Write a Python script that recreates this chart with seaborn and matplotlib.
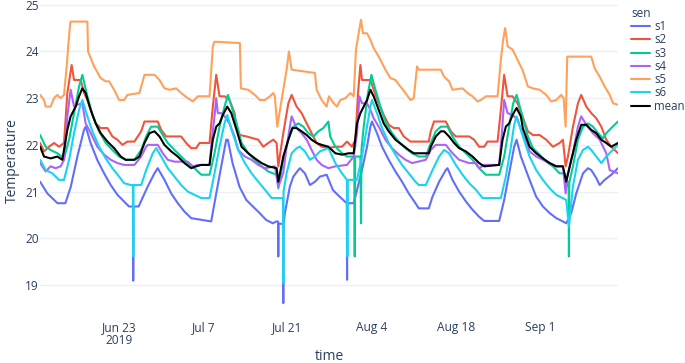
import pandas as pd
import matplotlib
matplotlib.use("Agg")
import matplotlib.pyplot as plt
from matplotlib.lines import Line2D
import seaborn as sns

# (days after 2019-06-23, temperature)
s1 = [(-13.2, 21.21), (-12.0, 20.96), (-10.3, 20.75), (-9.0, 20.75), (-8.1, 21.1), (-7.0, 21.75), (-5.9, 22.32),
      (-5.6, 22.39), (-4.8, 22.04), (-3.7, 21.68), (-2.55, 21.39), (-1.45, 21.14), (-0.33, 20.93), (1.05, 20.75),
      (1.6, 20.68), (2.25, 20.68), (2.3, 19.09), (2.35, 20.68), (3.2, 20.68), (4.72, 21.11), (5.83, 21.39),
      (6.38, 21.5), (7.5, 21.25), (8.62, 20.96), (9.72, 20.75), (10.83, 20.57), (11.95, 20.43), (15.28, 20.36),
      (16.12, 20.96), (16.95, 21.54), (17.78, 22.11), (18.05, 22.11), (18.83, 21.61), (20.0, 21.1), (21.12, 20.82),
      (22.22, 20.68), (23.33, 20.54), (24.45, 20.39), (25.55, 20.32), (26.12, 20.36), (26.4, 20.36), (26.45, 19.61),
      (26.5, 20.32), (27.23, 20.3), (27.28, 18.61), (27.33, 20.3), (27.55, 20.54), (28.38, 21.11), (28.95, 21.32),
      (29.78, 21.46), (30.05, 21.5), (30.88, 21.39), (31.72, 21.14), (32.55, 21.21), (33.38, 21.32), (34.5, 21.36),
      (35.55, 21.03), (36.67, 20.89), (37.5, 20.79), (37.85, 20.75), (37.9, 19.11), (37.95, 20.75), (38.33, 20.75),
      (39.0, 20.75), (39.55, 21.03), (40.38, 21.46), (41.22, 21.96), (41.78, 22.39), (42.05, 22.5), (42.88, 22.25),
      (43.72, 21.96), (44.83, 21.68), (45.95, 21.43), (47.05, 21.21), (48.17, 20.96), (49.28, 20.75), (49.83, 20.64),
      (51.5, 20.64), (52.12, 20.89), (53.22, 21.21), (54.33, 21.46), (54.62, 21.5), (55.45, 21.25), (56.55, 21.0),
      (57.67, 20.79), (58.78, 20.61), (59.88, 20.46), (60.72, 20.37), (63.22, 20.37), (64.05, 20.82), (64.88, 21.39),
      (65.72, 21.96), (66.12, 22.11), (66.83, 21.75), (67.67, 21.46), (68.28, 21.25), (69.38, 20.89), (70.5, 20.68),
      (71.62, 20.54), (72.72, 20.43), (73.83, 20.36), (74.38, 20.32), (75.22, 20.54), (76.05, 20.96), (77.17, 21.39),
      (78.0, 21.5), (78.55, 21.46), (79.38, 21.29), (79.95, 21.14), (80.78, 21.25), (81.88, 21.36), (83.0, 21.5)]

s2 = [(-13.2, 22.04), (-12.55, 21.86), (-11.72, 21.96), (-10.88, 22.04), (-10.05, 21.96), (-9.22, 22.04),
      (-8.67, 23.11), (-7.95, 23.71), (-7.55, 23.39), (-6.45, 23.39), (-5.88, 23.11), (-5.33, 22.96), (-4.78, 22.75),
      (-3.95, 22.46), (-3.12, 22.36), (-2.0, 22.36), (-1.17, 22.18), (-0.33, 22.11), (0.5, 22.0), (1.33, 22.07),
      (2.5, 22.07), (3.62, 22.29), (4.17, 22.5), (6.38, 22.5), (6.95, 22.32), (7.78, 22.18), (10.28, 22.18),
      (11.12, 22.04), (11.95, 21.93), (12.78, 21.93), (13.33, 22.04), (15.0, 22.04), (15.55, 22.82), (16.12, 23.5),
      (16.67, 23.04), (17.5, 23.04), (18.33, 22.96), (19.17, 22.68), (19.5, 22.39), (20.05, 22.21), (21.17, 22.18),
      (22.28, 22.14), (23.12, 22.11), (23.95, 21.96), (24.78, 22.04), (25.62, 22.11), (26.17, 22.04), (26.45, 21.54),
      (27.28, 22.25), (28.12, 22.89), (28.67, 23.07), (29.5, 22.82), (30.33, 22.68), (31.17, 22.46), (32.0, 22.25),
      (32.83, 22.04), (33.67, 21.96), (34.78, 21.93), (35.95, 21.96), (37.05, 21.96), (37.88, 22.07), (38.72, 21.96),
      (39.28, 22.11), (39.72, 23.11), (40.12, 23.71), (40.38, 23.39), (41.78, 23.39), (42.33, 23.18), (43.17, 22.89),
      (44.0, 22.64), (44.83, 22.43), (45.67, 22.36), (46.5, 22.36), (47.33, 22.18), (48.45, 22.07), (51.5, 22.07),
      (51.83, 22.29), (52.38, 22.5), (54.33, 22.5), (55.17, 22.29), (56.0, 22.18), (58.22, 22.18), (59.05, 22.11),
      (59.88, 21.96), (60.72, 21.96), (61.28, 22.07), (62.95, 22.07), (63.5, 22.75), (64.05, 23.5), (64.62, 23.04),
      (65.45, 23.04), (66.28, 22.89), (67.12, 22.6), (68.0, 22.29), (68.83, 22.21), (69.95, 22.21), (71.05, 22.11),
      (72.17, 21.96), (73.28, 22.04), (73.83, 22.11), (74.28, 21.54), (74.67, 21.75), (75.5, 22.39), (76.33, 22.89),
      (76.88, 23.07), (77.72, 22.82), (78.55, 22.68), (79.38, 22.57), (80.22, 22.39), (81.05, 22.11), (81.88, 21.96),
      (83.0, 21.82)]

s3 = [(-13.2, 22.21), (-12.28, 21.96), (-11.45, 21.89), (-10.33, 21.82), (-9.22, 21.71), (-8.38, 22.11),
      (-7.55, 22.68), (-6.72, 23.25), (-6.17, 23.5), (-5.33, 23.04), (-4.5, 22.64), (-3.38, 22.29), (-2.28, 22.04),
      (-1.17, 21.89), (-0.05, 21.75), (1.05, 21.68), (2.5, 21.68), (3.62, 21.89), (4.45, 22.18), (5.28, 22.39),
      (6.38, 22.39), (7.22, 22.21), (8.05, 22.04), (9.17, 21.89), (10.28, 21.75), (11.38, 21.61), (12.5, 21.5),
      (13.62, 21.36), (15.0, 21.36), (15.83, 21.82), (16.67, 22.39), (17.5, 22.82), (18.05, 23.07), (18.67, 22.82),
      (19.5, 22.46), (20.33, 22.04), (21.45, 21.82), (22.55, 21.68), (23.67, 21.54), (24.78, 21.43), (26.17, 21.36),
      (26.45, 21.07), (27.28, 21.68), (28.12, 22.11), (28.95, 22.39), (29.78, 22.46), (30.62, 22.39), (31.45, 22.25),
      (32.28, 22.18), (33.12, 22.29), (33.95, 22.36), (34.78, 22.5), (35.08, 22.18), (35.95, 21.96), (37.05, 21.82),
      (37.88, 21.75), (39.1, 21.75), (39.17, 19.61), (39.24, 21.75), (40.12, 21.75), (40.22, 20.32), (40.3, 21.9),
      (40.67, 22.39), (41.38, 23.11), (41.95, 23.5), (42.62, 23.18), (43.45, 22.82), (44.28, 22.5), (45.38, 22.25),
      (46.5, 22.07), (47.62, 21.93), (48.72, 21.82), (49.83, 21.75), (51.0, 21.75), (51.83, 22.04), (52.67, 22.29),
      (53.5, 22.39), (54.62, 22.39), (55.45, 22.18), (56.55, 21.96), (57.67, 21.82), (58.78, 21.68), (59.88, 21.5),
      (61.0, 21.36), (63.22, 21.36), (64.05, 21.75), (64.88, 22.39), (65.55, 22.89), (66.12, 23.07), (67.12, 22.6),
      (68.0, 22.18), (68.83, 21.93), (69.95, 21.79), (71.05, 21.64), (72.17, 21.54), (73.28, 21.39), (74.12, 21.39),
      (74.38, 21.1), (74.78, 21.2), (74.83, 19.61), (74.9, 21.2), (75.5, 21.54), (76.33, 22.11), (77.17, 22.39),
      (78.0, 22.46), (78.83, 22.39), (79.67, 22.25), (80.5, 22.14), (81.05, 22.25), (81.88, 22.36), (83.0, 22.5)]

s4 = [(-13.2, 21.61), (-12.28, 21.43), (-11.45, 21.54), (-10.62, 21.5), (-9.78, 21.54), (-9.22, 21.68),
      (-8.67, 22.61), (-8.12, 23.18), (-7.55, 22.82), (-7.0, 22.86), (-6.17, 22.89), (-5.62, 22.46), (-4.78, 22.25),
      (-3.67, 21.96), (-2.55, 21.79), (-1.45, 21.68), (-0.33, 21.61), (0.78, 21.57), (2.5, 21.57), (3.62, 21.75),
      (4.45, 21.96), (4.72, 22.0), (6.38, 22.0), (7.22, 21.82), (8.05, 21.68), (9.17, 21.64), (11.38, 21.64),
      (12.22, 21.54), (13.05, 21.57), (15.0, 21.57), (15.38, 22.11), (15.83, 22.61), (16.12, 23.0), (16.38, 22.68),
      (16.95, 22.68), (17.5, 22.61), (18.33, 22.46), (19.17, 22.18), (19.78, 21.89), (20.88, 21.75), (22.0, 21.68),
      (23.12, 21.57), (24.22, 21.5), (25.88, 21.54), (26.45, 21.11), (27.28, 21.4), (27.83, 21.96), (28.38, 22.39),
      (28.67, 22.61), (29.5, 22.36), (30.33, 22.25), (31.17, 22.11), (32.0, 21.89), (32.83, 21.68), (33.67, 21.57),
      (34.78, 21.5), (35.95, 21.54), (37.88, 21.57), (39.0, 21.75), (39.55, 22.25), (39.95, 23.04), (40.38, 22.89),
      (41.22, 22.89), (41.78, 22.75), (42.33, 22.57), (43.17, 22.39), (44.28, 22.11), (45.38, 21.93), (46.5, 21.79),
      (47.62, 21.68), (48.72, 21.61), (51.0, 21.68), (51.83, 21.89), (52.67, 22.0), (54.33, 22.0), (55.45, 21.82),
      (56.55, 21.68), (58.22, 21.61), (59.33, 21.61), (59.88, 21.5), (60.72, 21.57), (63.22, 21.57), (63.67, 22.25),
      (64.05, 22.96), (64.62, 22.68), (65.45, 22.64), (66.28, 22.54), (67.2, 22.2), (68.28, 21.86), (69.38, 21.75),
      (70.5, 21.68), (71.62, 21.61), (72.72, 21.54), (73.83, 21.54), (74.28, 20.96), (74.5, 21.3), (75.5, 21.82),
      (76.33, 22.39), (76.88, 22.61), (77.72, 22.43), (78.83, 22.25), (79.95, 22.11), (81.05, 21.82), (81.62, 21.46),
      (83.0, 21.39)]

s5 = [(-13.2, 23.07), (-12.55, 22.96), (-12.28, 22.82), (-11.45, 22.82), (-10.88, 23.0), (-10.33, 23.07),
      (-9.78, 23.0), (-9.22, 23.07), (-8.78, 23.68), (-8.5, 24.14), (-8.22, 24.57), (-8.12, 24.64), (-5.33, 24.64),
      (-5.22, 24.0), (-4.22, 23.68), (-3.12, 23.43), (-2.28, 23.36), (-1.72, 23.36), (-0.88, 23.18), (-0.05, 22.96),
      (0.78, 22.96), (1.33, 23.07), (3.33, 23.11), (4.17, 23.5), (5.83, 23.5), (6.67, 23.39), (7.5, 23.21),
      (8.33, 23.18), (9.45, 23.21), (10.28, 23.11), (11.38, 23.0), (12.22, 22.93), (13.05, 23.04), (15.0, 23.04),
      (15.55, 24.11), (15.83, 24.21), (20.05, 24.18), (20.22, 23.21), (21.45, 23.18), (22.55, 23.07), (23.38, 22.96),
      (24.22, 22.96), (25.05, 23.04), (25.62, 23.11), (25.88, 23.04), (26.28, 22.39), (27.0, 22.96), (27.83, 23.61),
      (28.22, 24.0), (28.67, 23.61), (32.55, 23.54), (32.83, 23.18), (33.67, 22.96), (34.5, 22.82), (34.88, 23.04),
      (35.67, 22.89), (36.22, 22.82), (36.78, 22.96), (37.62, 23.0), (38.45, 23.11), (39.0, 23.04), (39.38, 24.04),
      (39.83, 24.39), (40.22, 24.68), (40.55, 24.39), (41.22, 24.39), (41.78, 24.25), (42.33, 24.07), (43.17, 23.89),
      (44.28, 23.61), (45.12, 23.43), (45.95, 23.39), (46.78, 23.25), (47.62, 23.11), (48.45, 22.96), (49.0, 23.0),
      (49.55, 23.68), (49.83, 23.61), (53.5, 23.61), (54.05, 23.46), (54.88, 23.36), (55.45, 23.18), (57.12, 23.21),
      (57.95, 23.11), (58.78, 23.04), (59.62, 22.93), (60.17, 22.96), (61.0, 23.04), (62.95, 23.04), (63.5, 23.82),
      (63.88, 24.25), (64.22, 24.5), (64.62, 24.11), (65.45, 24.04), (66.28, 23.82), (67.12, 23.6), (68.0, 23.25),
      (68.83, 23.21), (69.95, 23.18), (71.05, 23.07), (71.88, 22.93), (72.72, 22.96), (73.55, 23.07), (73.95, 23.0),
      (74.28, 22.39), (74.55, 23.89), (78.55, 23.89), (79.12, 23.64), (79.95, 23.46), (80.78, 23.25), (81.62, 23.07),
      (82.17, 22.89), (83.0, 22.86)]

s6 = [(-13.2, 21.68), (-12.28, 21.46), (-11.17, 21.39), (-10.05, 21.25), (-9.22, 21.25), (-8.38, 21.68),
      (-7.55, 22.25), (-6.72, 22.75), (-6.17, 22.96), (-5.33, 22.61), (-4.5, 22.29), (-3.38, 21.96), (-2.28, 21.71),
      (-1.17, 21.5), (-0.05, 21.32), (0.78, 21.18), (1.88, 21.14), (2.25, 21.14), (2.3, 19.61), (2.35, 21.14),
      (3.62, 21.14), (4.45, 21.46), (5.55, 21.82), (6.12, 21.93), (6.95, 21.75), (8.05, 21.5), (9.17, 21.32),
      (10.28, 21.14), (11.38, 21.0), (12.5, 20.93), (13.62, 20.86), (15.0, 20.86), (15.83, 21.39), (16.67, 21.96),
      (17.5, 22.46), (17.95, 22.64), (18.67, 22.32), (19.78, 21.89), (20.88, 21.61), (22.0, 21.39), (23.12, 21.21),
      (24.22, 21.04), (25.33, 20.86), (27.23, 20.86), (27.28, 19.04), (27.33, 21.0), (27.83, 21.39), (28.67, 21.82),
      (29.5, 21.93), (30.05, 21.96), (30.88, 21.86), (31.72, 21.68), (32.55, 21.75), (33.38, 21.86), (34.78, 21.93),
      (35.95, 21.61), (37.05, 21.39), (37.88, 21.25), (37.95, 19.61), (38.02, 21.25), (39.55, 21.25), (40.38, 21.75),
      (41.22, 22.39), (41.78, 22.82), (42.05, 22.96), (42.88, 22.68), (43.72, 22.36), (44.83, 22.04), (45.95, 21.79),
      (47.05, 21.57), (48.17, 21.39), (49.28, 21.21), (49.83, 21.14), (51.0, 21.14), (52.12, 21.46), (53.22, 21.75),
      (54.05, 21.89), (54.88, 21.82), (56.0, 21.57), (57.12, 21.36), (58.22, 21.18), (59.33, 21.04), (60.45, 20.86),
      (63.5, 20.86), (64.33, 21.32), (65.17, 21.96), (65.72, 22.43), (66.12, 22.61), (67.12, 22.2), (68.28, 21.75),
      (69.38, 21.46), (70.5, 21.25), (71.62, 21.07), (72.72, 20.93), (74.38, 20.82), (74.83, 20.25), (75.5, 21.11),
      (76.33, 21.68), (77.17, 21.89), (78.0, 21.96), (78.55, 21.89), (79.38, 21.75), (80.22, 21.61), (81.05, 21.75),
      (81.88, 21.86), (83.0, 22.0)]

mean = [(-13.2, 21.96), (-12.55, 21.75), (-11.45, 21.71), (-10.33, 21.75), (-9.5, 21.68), (-8.67, 22.32),
        (-8.12, 22.61), (-7.28, 22.82), (-6.72, 23.04), (-6.17, 23.21), (-5.62, 23.11), (-4.78, 22.75),
        (-3.95, 22.46), (-3.12, 22.25), (-2.0, 22.07), (-0.88, 21.93), (0.22, 21.75), (1.05, 21.68), (2.5, 21.68),
        (3.33, 21.75), (4.17, 22.04), (5.0, 22.25), (5.83, 22.29), (6.67, 22.18), (7.5, 22.0), (8.62, 21.86),
        (9.72, 21.75), (10.83, 21.61), (11.95, 21.5), (12.78, 21.54), (13.62, 21.57), (15.0, 21.57), (15.55, 22.11),
        (16.12, 22.39), (16.67, 22.46), (17.22, 22.64), (17.95, 22.82), (18.62, 22.68), (19.5, 22.32), (20.33, 21.96),
        (21.45, 21.82), (22.55, 21.71), (23.67, 21.61), (24.78, 21.54), (26.17, 21.5), (26.45, 21.21), (27.28, 21.75),
        (28.12, 22.11), (28.78, 22.36), (29.5, 22.36), (30.33, 22.29), (31.17, 22.21), (32.0, 22.11), (32.83, 22.04),
        (33.67, 22.0), (34.78, 21.96), (35.95, 21.82), (37.05, 21.79), (38.17, 21.82), (39.0, 21.82), (39.55, 22.46),
        (40.12, 22.68), (40.67, 22.82), (41.22, 22.96), (41.78, 23.18), (42.33, 23.04), (43.17, 22.75), (44.0, 22.46),
        (44.83, 22.29), (45.95, 22.11), (47.05, 22.0), (48.17, 21.89), (49.0, 21.82), (51.5, 21.82), (51.83, 21.96),
        (52.67, 22.18), (53.5, 22.29), (54.05, 22.29), (54.88, 22.18), (55.72, 22.04), (56.55, 21.93), (57.67, 21.86),
        (58.78, 21.75), (59.88, 21.61), (60.72, 21.54), (63.22, 21.57), (63.78, 22.11), (64.33, 22.39), (64.88, 22.46),
        (65.45, 22.64), (66.12, 22.79), (66.83, 22.61), (67.17, 22.35), (68.28, 21.96), (69.38, 21.82), (70.5, 21.71),
        (71.62, 21.61), (72.72, 21.54), (73.83, 21.54), (74.38, 21.21), (75.22, 21.68), (76.05, 22.11), (76.88, 22.43),
        (77.72, 22.43), (78.55, 22.32), (79.38, 22.25), (80.22, 22.11), (81.05, 22.04), (81.88, 21.96), (83.0, 22.04)]

sensors = ["s1", "s2", "s3", "s4", "s5", "s6", "mean"]
colors = ["#636EFA", "#EF553B", "#00CC96", "#AB63FA", "#FFA15A", "#19D3F3", "black"]
tick_dates = ["2019-06-23", "2019-07-07", "2019-07-21", "2019-08-04", "2019-08-18", "2019-09-01"]
tick_labels = ["Jun 23\n2019", "Jul 7", "Jul 21", "Aug 4", "Aug 18", "Sep 1"]
y_ticks = [19, 20, 21, 22, 23, 24, 25]

start = pd.Timestamp("2019-06-23")
rows = []
for name, pts in zip(sensors, [s1, s2, s3, s4, s5, s6, mean]):
    for d, v in pts:
        rows.append((start + pd.Timedelta(days=d), v, name))
df = pd.DataFrame(rows, columns=["time", "Temperature", "sen"])

sns.set_theme(style="white")
plt.rcParams["font.family"] = ["Open Sans", "DejaVu Sans"]
txt = "#2a3f5f"

fig = plt.figure(figsize=(6.85, 3.63), dpi=100)
ax = fig.add_axes([40 / 685, 1 - 319 / 363, 578 / 685, 317 / 363])
sns.lineplot(data=df, x="time", y="Temperature", hue="sen", hue_order=sensors, palette=colors,
             estimator=None, sort=False, linewidth=1.5, legend=False, ax=ax)

ax.set_xlim(start + pd.Timedelta(days=-13.22), start + pd.Timedelta(days=83.0))
ax.set_ylim(18.27, 25.06)
ax.set_yticks(y_ticks)
ax.set_xticks(pd.to_datetime(tick_dates))
ax.set_xticklabels(tick_labels, linespacing=0.95)
ax.yaxis.grid(True, color="#EBF0F8", lw=1)
ax.xaxis.grid(False)
ax.set_axisbelow(True)
for sp in ax.spines.values():
    sp.set_visible(False)
ax.tick_params(length=0, labelsize=8.6, labelcolor=txt)
ax.tick_params(axis="x", pad=1.5)
ax.tick_params(axis="y", pad=1.0)

ax.set_xlabel("time", fontsize=10, color=txt, va="center")
ax.set_ylabel("Temperature", fontsize=10, color=txt, va="center")
ax.xaxis.set_label_coords(0.5, -0.117)
ax.yaxis.set_label_coords(-0.0484, 0.5)

handles = [Line2D([], [], color=c, lw=1.5) for c in colors]
fig.legend(handles, sensors, loc="upper left", bbox_to_anchor=(631 / 685, 1 - 7 / 363), title="sen",
           frameon=False, alignment="left", handlelength=1.65, handletextpad=0.35, labelspacing=0.02,
           borderpad=0, borderaxespad=0, fontsize=8.3, title_fontsize=8.6, labelcolor=txt)
fig.legends[0].get_title().set_color(txt)

fig.savefig("out.png", dpi=100)
